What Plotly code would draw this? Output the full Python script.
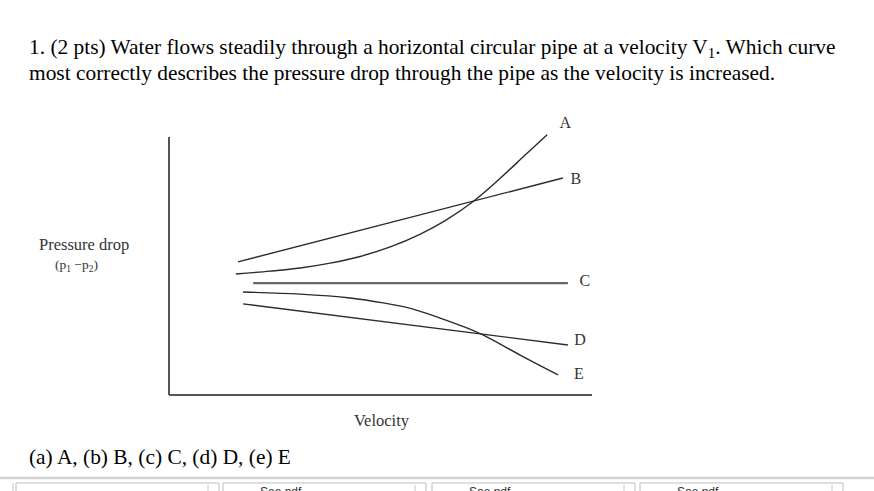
import plotly.graph_objects as go

W, H = 874, 491

# ---- data (velocity, pressure drop) in chart units ----
a_vel = [1.58, 2.39, 3.10, 3.81, 4.52, 5.23, 5.93, 6.53, 7.23, 7.83, 8.42, 8.94]
a_dp = [4.69, 4.80, 4.92, 5.11, 5.37, 5.74, 6.23, 6.76, 7.55, 8.40, 9.30, 10.09]

b_vel = [1.63, 9.31]
b_dp = [5.16, 8.41]

c_vel = [1.99, 9.43]
c_dp = [4.34, 4.34]

d_vel = [1.75, 9.43]
d_dp = [3.53, 1.94]

e_vel = [1.75, 3.10, 4.28, 5.06, 5.77, 6.41, 6.93, 7.42, 8.30, 9.20]
e_dp = [3.99, 3.91, 3.76, 3.57, 3.33, 2.98, 2.67, 2.33, 1.55, 0.78]

curve_labels = ["A", "B", "C", "D", "E"]
label_vel = [9.37, 9.62, 9.83, 9.72, 9.69]
label_dp = [10.52, 8.33, 4.38, 2.09, 0.78]

title_line1 = "1. (2 pts) Water flows steadily through a horizontal circular pipe at a velocity V<sub>1</sub>. Which curve"
title_line2 = "most correctly describes the pressure drop through the pipe as the velocity is increased."
answers = "(a) A, (b) B, (c) C, (d) D, (e) E"
y_title = "Pressure drop"
y_sub = "(p<sub>1</sub> \u2212p<sub>2</sub>)"
x_title = "Velocity"
tab_text = ["", "See pdf", "See pdf", "See pdf"]

# ---- layout helpers ----
X0, XU = 169.0, 42.3     # pixel of velocity 0, pixels per unit
Y0, YU = 395.0, 25.8     # pixel of dp 0, pixels per unit
XR = [-0.5, 10.5]
YR = [-0.5, 11.0]

def fx(p):
    return p / W

def fy(p):
    return 1 - p / H

xdom = [fx(X0 + XR[0] * XU), fx(X0 + XR[1] * XU)]
ydom = [fy(Y0 - YR[0] * YU), fy(Y0 - YR[1] * YU)]

SERIF = "Liberation Serif, Times New Roman, serif"
LINE = "#2b2b2b"

fig = go.Figure()
for xs, ys, col, wd, shp in [
    (a_vel, a_dp, LINE, 1.4, "spline"),
    (b_vel, b_dp, LINE, 1.4, "linear"),
    (c_vel, c_dp, "#666666", 2.2, "linear"),
    (d_vel, d_dp, LINE, 1.4, "linear"),
    (e_vel, e_dp, LINE, 1.4, "spline"),
]:
    fig.add_trace(go.Scatter(x=xs, y=ys, mode="lines",
                             line=dict(color=col, width=wd, shape=shp),
                             hoverinfo="skip", showlegend=False))

fig.add_trace(go.Scatter(x=label_vel, y=label_dp, mode="text", text=curve_labels,
                         textposition="middle center",
                         textfont=dict(family=SERIF, size=16, color="#333333"),
                         hoverinfo="skip", showlegend=False, cliponaxis=False))

shapes = [
    # y axis
    dict(type="line", xref="x", yref="y", x0=0, x1=0, y0=0, y1=10,
         line=dict(color="#555555", width=2)),
    # x axis
    dict(type="line", xref="x", yref="y", x0=0, x1=10, y0=0, y1=0,
         line=dict(color="#555555", width=2)),
    # bottom browser strip
    dict(type="line", xref="paper", yref="paper", x0=0, x1=1, y0=fy(478), y1=fy(478),
         line=dict(color="#d2d2d2", width=2.5)),
    dict(type="line", xref="paper", yref="paper", x0=fx(13), x1=fx(13), y0=fy(483), y1=0,
         line=dict(color="#c4c4c4", width=1)),
]
tab_left = [16, 223, 432, 640]
tab_w = 203
for tl in tab_left:
    shapes.append(dict(type="rect", xref="paper", yref="paper",
                       x0=fx(tl), x1=fx(tl + tab_w), y0=fy(496), y1=fy(483),
                       line=dict(color="#bdbdbd", width=1), fillcolor="#ffffff"))
    shapes.append(dict(type="line", xref="paper", yref="paper",
                       x0=fx(tl + tab_w - 11), x1=fx(tl + tab_w - 11), y0=0, y1=fy(485),
                       line=dict(color="#c8c8c8", width=1)))

ann = [
    dict(text=title_line1, x=fx(27), y=fy(48), xanchor="left", yanchor="middle",
         font=dict(family=SERIF, size=21.4, color="#000000")),
    dict(text=title_line2, x=fx(27), y=fy(73), xanchor="left", yanchor="middle",
         font=dict(family=SERIF, size=21.4, color="#000000")),
    dict(text=answers, x=fx(27), y=fy(457), xanchor="left", yanchor="middle",
         font=dict(family=SERIF, size=21.4, color="#000000")),
    dict(text=y_title, x=fx(84), y=fy(244), xanchor="center", yanchor="middle",
         font=dict(family=SERIF, size=16.5, color="#333333")),
    dict(text=y_sub, x=fx(76), y=fy(265), xanchor="center", yanchor="middle",
         font=dict(family=SERIF, size=13.5, color="#333333")),
    dict(text=x_title, x=fx(382), y=fy(420), xanchor="center", yanchor="middle",
         font=dict(family=SERIF, size=16.5, color="#333333")),
]
for tl, t in zip(tab_left, tab_text):
    if t:
        ann.append(dict(text=t, x=fx(tl + 58), y=fy(491.5), xanchor="center",
                        yanchor="middle", font=dict(family="Liberation Sans, Arial", size=12,
                                                    color="#333333")))
for a in ann:
    a.update(xref="paper", yref="paper", showarrow=False)

fig.update_layout(
    width=W, height=H,
    margin=dict(l=0, r=0, t=0, b=0),
    paper_bgcolor="white", plot_bgcolor="white",
    xaxis=dict(domain=xdom, range=XR, visible=False, fixedrange=True),
    yaxis=dict(domain=ydom, range=YR, visible=False, fixedrange=True),
    shapes=shapes, annotations=ann,
)

fig.write_html("out.html", config={"displayModeBar": False},
               post_script="document.body.style.margin='0px';document.body.style.overflow='hidden';")
